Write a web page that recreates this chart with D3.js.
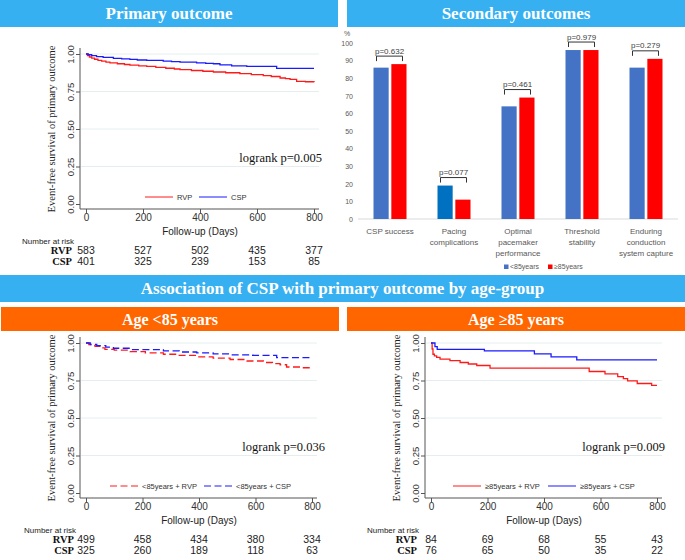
<!DOCTYPE html>
<html>
<head>
<meta charset="utf-8">
<script src="https://cdn.jsdelivr.net/npm/d3@7"></script>
<style>
  body { margin: 0; background: #fff; }
  svg { display: block; }
</style>
</head>
<body>
<div id="chart"></div>
<script>
// ---- data ----
// Kaplan-Meier steps, [day, survival]
var rvpAll = [[0,1],[5,0.99],[12,0.98],[20,0.972],[30,0.965],[42,0.958],[55,0.952],[70,0.946],[84,0.941],
  [110,0.935],[135,0.93],[154,0.926],[185,0.921],[213,0.917],[245,0.911],[280,0.905],[310,0.9],[330,0.896],
  [370,0.89],[410,0.885],[447,0.88],[490,0.875],[540,0.869],[580,0.862],[622,0.856],[650,0.85],[681,0.84],
  [700,0.836],[716,0.831],[739,0.818],[770,0.815],[800,0.811]];
var cspAll = [[0,1],[8,0.995],[20,0.989],[37,0.982],[60,0.978],[96,0.971],[125,0.967],[154,0.964],[180,0.96],
  [213,0.957],[271,0.953],[300,0.949],[330,0.946],[388,0.941],[420,0.937],[447,0.935],[470,0.928],[511,0.921],
  [564,0.917],[669,0.904],[800,0.904]];
var rvpUnder85 = [[0,1],[10,0.99],[20,0.984],[32,0.978],[50,0.968],[67,0.958],[100,0.952],[156,0.943],[210,0.934],
  [274,0.925],[330,0.917],[392,0.908],[450,0.899],[510,0.89],[570,0.88],[628,0.87],[660,0.862],[687,0.855],
  [710,0.84],[760,0.835],[800,0.833]];
var cspUnder85 = [[0,1],[15,0.99],[38,0.982],[70,0.973],[97,0.965],[156,0.956],[274,0.947],[330,0.94],[392,0.934],
  [450,0.927],[510,0.921],[590,0.917],[675,0.903],[800,0.903]];
var rvpOver85 = [[0,1],[4,0.96],[7,0.925],[12,0.914],[20,0.904],[32,0.893],[67,0.882],[103,0.87],[132,0.86],
  [162,0.85],[209,0.833],[560,0.81],[616,0.794],[661,0.776],[681,0.763],[696,0.748],[730,0.73],[781,0.717],[800,0.717]];
var cspOver85 = [[0,1],[14,0.976],[22,0.958],[189,0.947],[366,0.928],[425,0.908],[516,0.888],[800,0.888]];

var dayTicks = [0, 200, 400, 600, 800];
var survTicks = [0, 0.25, 0.5, 0.75, 1];

// number at risk at each day tick
var riskAllRVP = [583, 527, 502, 435, 377];
var riskAllCSP = [401, 325, 239, 153, 85];
var riskUnderRVP = [499, 458, 434, 380, 334];
var riskUnderCSP = [325, 260, 189, 118, 63];
var riskOverRVP = [84, 69, 68, 55, 43];
var riskOverCSP = [76, 65, 50, 35, 22];

// secondary outcomes (%)
var outcomes = ["CSP success", "Pacing complications", "Optimal pacemaker performance",
  "Threshold stability", "Enduring conduction system capture"];
var outcomeLines = [["CSP success"], ["Pacing", "complications"], ["Optimal", "pacemaker", "performance"],
  ["Threshold", "stability"], ["Enduring", "conduction", "system capture"]];
var under85 = [86, 19, 64, 96, 86];
var over85 = [88, 11, 69, 96, 91];
var pValues = ["p=0.632", "p=0.077", "p=0.461", "p=0.979", "p=0.279"];
var pctTicks = [0, 10, 20, 30, 40, 50, 60, 70, 80, 90, 100];

var svg = d3.select("#chart").append("svg")
    .attr("width", 685)
    .attr("height", 560);

var serif = "'Liberation Serif', 'Times New Roman', serif";
var sans = "'Liberation Sans', Arial, sans-serif";

// ---- coloured title bars ----
function header(x, y, w, h, fill, label, size) {
    svg.append("rect").attr("x", x).attr("y", y).attr("width", w).attr("height", h).attr("fill", fill);
    svg.append("text")
        .attr("x", x + w / 2).attr("y", y + h / 2)
        .attr("dy", "0.35em")
        .attr("text-anchor", "middle")
        .attr("fill", "#fff")
        .attr("font-family", serif)
        .attr("font-weight", "bold")
        .attr("font-size", size)
        .text(label);
}
header(0, 0, 338, 27, "#36b0f1", "Primary outcome", 17);
header(347, 0, 338, 27, "#36b0f1", "Secondary outcomes", 17);
header(0, 275, 685, 27, "#36b0f1", "Association of CSP with primary outcome by age-group", 17);
header(1, 307, 338, 24, "#ff6600", "Age <85 years", 16);
header(347, 307, 338, 24, "#ff6600", "Age \u226585 years", 16);

// ---- Kaplan-Meier panel ----
function kmPanel(o) {
    var g = svg.append("g").attr("transform", "translate(" + o.dx + "," + o.dy + ")");
    var x = d3.scaleLinear().domain([0, 800]).range([86, o.xEnd]);
    var y = d3.scaleLinear().domain([0, 1]).range([204, 54]);

    // gridlines
    g.selectAll(".grid").data(survTicks.filter(function(d) { return d > 0; }))
        .enter().append("line")
        .attr("x1", 81).attr("x2", o.xEnd + 5)
        .attr("y1", y).attr("y2", y)
        .attr("stroke", "#e4eef0").attr("stroke-width", 1);

    // axes
    var ya = g.append("g").attr("transform", "translate(80,0)")
        .call(d3.axisLeft(y).tickValues(survTicks).tickSize(4).tickFormat(d3.format(".2f")));
    ya.select(".domain").remove();
    ya.selectAll("line").attr("stroke", "#555");
    ya.selectAll("text")
        .attr("transform", "rotate(-90)")
        .attr("x", 0).attr("y", -6.5).attr("dy", 0)
        .attr("text-anchor", "middle")
        .attr("fill", "#333")
        .attr("font-family", sans).attr("font-size", 9.5);

    var xa = g.append("g").attr("transform", "translate(0,209)")
        .call(d3.axisBottom(x).tickValues(dayTicks).tickSize(4).tickPadding(1));
    xa.select(".domain").remove();
    xa.selectAll("line").attr("stroke", "#555");
    xa.selectAll("text").attr("fill", "#333").attr("font-family", sans).attr("font-size", 10);

    g.append("line").attr("x1", 80).attr("x2", 80).attr("y1", 48).attr("y2", 209).attr("stroke", "#555");
    g.append("line").attr("x1", 80).attr("x2", o.xEnd + 5).attr("y1", 209).attr("y2", 209).attr("stroke", "#555");

    // survival curves
    var line = d3.line()
        .x(function(d) { return x(d[0]); })
        .y(function(d) { return y(d[1]); })
        .curve(d3.curveStepAfter);
    o.series.forEach(function(s) {
        g.append("path").datum(s.data)
            .attr("d", line)
            .attr("fill", "none")
            .attr("stroke", s.color)
            .attr("stroke-width", 1.3)
            .attr("stroke-dasharray", o.dashed ? "7,3.5" : null);
    });

    // legend
    o.series.forEach(function(s, i) {
        var lx = o.legendX[i];
        g.append("line")
            .attr("x1", lx).attr("x2", lx + 28)
            .attr("y1", 197).attr("y2", 197)
            .attr("stroke", s.color).attr("stroke-width", 1)
            .attr("stroke-dasharray", o.dashed ? "7,3.5" : null);
        g.append("text")
            .attr("x", lx + 32).attr("y", 197).attr("dy", "0.35em")
            .attr("fill", "#333").attr("font-family", sans).attr("font-size", 7.5)
            .text(s.label);
    });

    // logrank
    g.append("text")
        .attr("x", o.logX).attr("y", 162)
        .attr("text-anchor", "end")
        .attr("fill", "#111").attr("font-family", serif).attr("font-size", 12.5)
        .text(o.logrank);

    // titles
    g.append("text")
        .attr("transform", "translate(55,129) rotate(-90)")
        .attr("text-anchor", "middle")
        .attr("fill", "#222").attr("font-family", serif).attr("font-size", 10.5)
        .text("Event-free survival of primary outcome");
    g.append("text")
        .attr("x", (86 + o.xEnd) / 2).attr("y", 234.5)
        .attr("text-anchor", "middle")
        .attr("fill", "#222").attr("font-family", sans).attr("font-size", 10)
        .text("Follow-up (Days)");

    // number at risk table
    g.append("text")
        .attr("x", o.riskLabelX - 50).attr("y", 244)
        .attr("fill", "#222").attr("font-family", sans).attr("font-size", 8)
        .text("Number at risk");
    o.risk.forEach(function(r, i) {
        var ry = 254 + i * 10.5;
        g.append("text")
            .attr("x", o.riskLabelX).attr("y", ry)
            .attr("text-anchor", "end")
            .attr("fill", "#111").attr("font-family", serif).attr("font-weight", "bold").attr("font-size", 10.5)
            .text(r.label);
        g.selectAll(".n" + i).data(r.values).enter().append("text")
            .attr("x", function(d, j) { return x(dayTicks[j]); })
            .attr("y", ry)
            .attr("text-anchor", "middle")
            .attr("fill", "#222").attr("font-family", sans).attr("font-size", 10.5)
            .text(function(d) { return d; });
    });
}

kmPanel({
    dx: 0, dy: 0, xEnd: 314, dashed: false,
    series: [{ data: rvpAll, color: "#ff1a1a", label: "RVP" },
             { data: cspAll, color: "#1a1aff", label: "CSP" }],
    legendX: [145, 199],
    logX: 322, logrank: "logrank p=0.005",
    riskLabelX: 72,
    risk: [{ label: "RVP", values: riskAllRVP }, { label: "CSP", values: riskAllCSP }]
});
kmPanel({
    dx: 0, dy: 289, xEnd: 312, dashed: true,
    series: [{ data: rvpUnder85, color: "#ff1a1a", label: "<85years + RVP" },
             { data: cspUnder85, color: "#1a1aff", label: "<85years + CSP" }],
    legendX: [110, 204],
    logX: 325, logrank: "logrank p=0.036",
    riskLabelX: 74,
    risk: [{ label: "RVP", values: riskUnderRVP }, { label: "CSP", values: riskUnderCSP }]
});
kmPanel({
    dx: 345, dy: 289, xEnd: 312, dashed: false,
    series: [{ data: rvpOver85, color: "#ff1a1a", label: "\u226585years + RVP" },
             { data: cspOver85, color: "#1a1aff", label: "\u226585years + CSP" }],
    legendX: [108, 203],
    logX: 320, logrank: "logrank p=0.009",
    riskLabelX: 72,
    risk: [{ label: "RVP", values: riskOverRVP }, { label: "CSP", values: riskOverCSP }]
});

// ---- secondary outcomes bar chart ----
var bx = d3.scaleBand().domain(outcomes).range([358, 678]);
var groups = ["<85years", "\u226585years"];
var bx1 = d3.scaleBand().domain(groups).range([-16.5, 16.5]).paddingInner(0.15);
var by = d3.scaleLinear().domain([0, 100]).range([219, 43]);
var blue = "#4472c4", red = "#ff0000";

var bar = svg.append("g");
var yAx = bar.append("g").attr("transform", "translate(353,0)")
    .call(d3.axisLeft(by).tickValues(pctTicks).tickSize(0).tickPadding(0));
yAx.select(".domain").remove();
yAx.selectAll("text").attr("fill", "#595959").attr("font-family", sans).attr("font-size", 7);
bar.append("text").attr("x", 344).attr("y", 36)
    .attr("fill", "#595959").attr("font-family", sans).attr("font-size", 7).text("%");
bar.append("line").attr("x1", 358).attr("x2", 678).attr("y1", by(0)).attr("y2", by(0))
    .attr("stroke", "#d9d9d9");

var cat = bar.selectAll(".cat").data(outcomes).enter().append("g")
    .attr("transform", function(d) { return "translate(" + (bx(d) + bx.bandwidth() / 2) + ",0)"; });

cat.append("rect")
    .attr("x", bx1(groups[0])).attr("width", bx1.bandwidth())
    .attr("y", function(d, i) { return by(under85[i]); })
    .attr("height", function(d, i) { return by(0) - by(under85[i]); })
    .attr("fill", function(d, i) { return i === 1 ? "#0070c0" : blue; });
cat.append("rect")
    .attr("x", bx1(groups[1])).attr("width", bx1.bandwidth())
    .attr("y", function(d, i) { return by(over85[i]); })
    .attr("height", function(d, i) { return by(0) - by(over85[i]); })
    .attr("fill", red);

// p-value brackets and category labels
cat.each(function(d, i) {
    var c = d3.select(this);
    var top = by(Math.max(under85[i], over85[i])) - 3;
    var x0 = bx1(groups[0]) + 3, x1 = bx1(groups[1]) + bx1.bandwidth() - 4;
    c.append("path")
        .attr("d", "M" + x0 + "," + top + "V" + (top - 5) + "H" + x1 + "V" + top)
        .attr("fill", "none").attr("stroke", "#333").attr("stroke-width", 1);
    c.append("text")
        .attr("x", (x0 + x1) / 2).attr("y", top - 7.5)
        .attr("text-anchor", "middle")
        .attr("fill", "#404040").attr("font-family", sans).attr("font-size", 8)
        .text(pValues[i]);
    c.selectAll(".lbl").data(outcomeLines[i]).enter().append("text")
        .attr("x", 0).attr("y", function(t, k) { return 234 + k * 10.8; })
        .attr("text-anchor", "middle")
        .attr("fill", "#595959").attr("font-family", sans).attr("font-size", 8)
        .text(function(t) { return t; });
});

// legend
var lg = bar.selectAll(".lg").data(groups).enter().append("g")
    .attr("transform", function(d, i) { return "translate(" + (504 + i * 44) + ",267)"; });
lg.append("rect").attr("x", 0).attr("y", -2.5).attr("width", 4.5).attr("height", 4.5)
    .attr("fill", function(d, i) { return i ? red : blue; });
lg.append("text").attr("x", 6).attr("y", 0).attr("dy", "0.35em")
    .attr("fill", "#595959").attr("font-family", sans).attr("font-size", 7)
    .text(function(d) { return d; });
</script>
</body>
</html>
